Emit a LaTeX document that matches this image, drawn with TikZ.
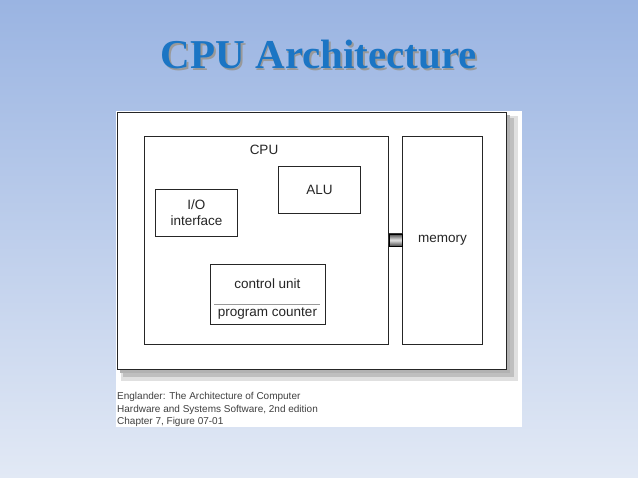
\documentclass[tikz,border=0pt]{standalone}
\usepackage{fontspec}
\setmainfont{Liberation Sans}
\newfontfamily\titlefont{Liberation Serif}
\definecolor{bgtop}{HTML}{9AB4E2}
\definecolor{bgbot}{HTML}{E2E9F5}
\definecolor{titleblue}{HTML}{1B75C4}
\tikzset{
  box/.style={draw=black!85, line width=0.9pt, fill=white},
  lbl/.style={font=\fontsize{13.5}{16}\selectfont, text=black!85},
  captext/.style={font=\fontsize{10}{12}\selectfont, text=black!75, anchor=west, inner sep=0pt}
}
\begin{document}
\begin{tikzpicture}[x=1pt,y=-1pt]
\useasboundingbox (0,0) rectangle (638,478);
\shade[top color=bgtop, bottom color=bgbot] (0,0) rectangle (638,478);
\node[font=\titlefont\bfseries\fontsize{41}{44}\selectfont, text=black!40] at (320.5,56.5) {CPU Architecture};
\node[font=\titlefont\bfseries\fontsize{41}{44}\selectfont, text=titleblue] (title) at (319,55) {CPU Architecture};
\fill[white] (116,111) rectangle (522,427);
\fill[black!12] (121,116) rectangle (518,381);
\fill[black!25] (123,118) rectangle (514,377);
\fill[black!30] (120,115) rectangle (510,373);
\node[box, minimum width=389, minimum height=257, anchor=north west, inner sep=0pt] (outer) at (117,112) {};
\node[box, minimum width=244, minimum height=208, anchor=north west, inner sep=0pt] (cpu) at (144,136) {};
\node[lbl] at (264,150) {CPU};
\node[box, minimum width=80, minimum height=208, anchor=north west, inner sep=0pt, lbl] (mem) at (402,136) {memory};
\shade[top color=black!70, bottom color=black!70, middle color=black!10, draw=black] (cpu.east |- 0,234) rectangle (mem.west |- 0,246);
\node[box, minimum width=82, minimum height=47, anchor=north west, inner sep=0pt, lbl, align=center] (io) at (155,189) {I/O\\interface};
\node[box, minimum width=82, minimum height=47, anchor=north west, inner sep=0pt, lbl] (alu) at (278,166) {ALU};
\node[box, minimum width=115, minimum height=60, anchor=north west, inner sep=0pt] (cu) at (210,264) {};
\node[lbl] at (267.5,284) {control unit};
\node[lbl] at (267.5,314) {program counter};
\draw[black!40, line width=0.6pt] (214,304) -- (320,304);
\node[captext] at (117,397) {Englander: The Architecture of Computer};
\node[captext] at (117,409.5) {Hardware and Systems Software, 2nd edition};
\node[captext] at (117,422) {Chapter 7, Figure 07-01};
\end{tikzpicture}
\end{document}
